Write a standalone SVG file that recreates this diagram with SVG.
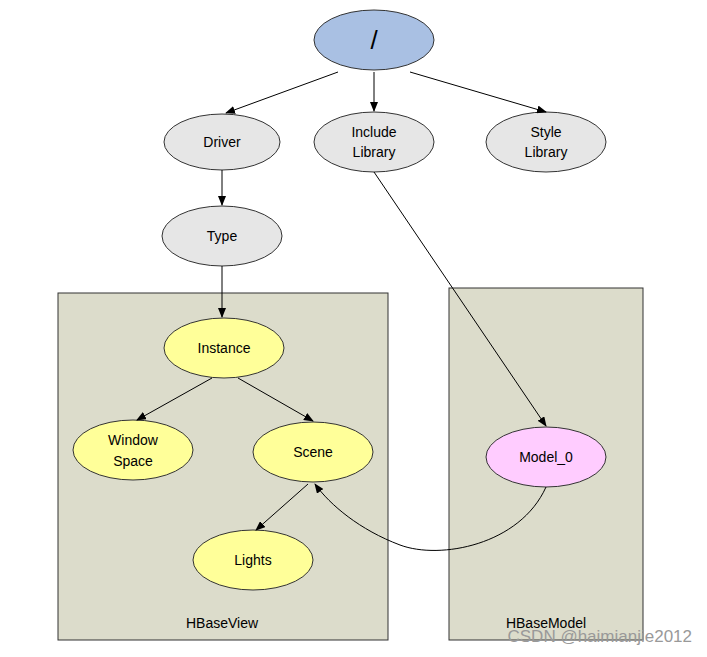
<svg xmlns="http://www.w3.org/2000/svg" width="707" height="657" viewBox="0 0 707 657">
<defs>
<style>
text{font-family:"Liberation Sans",Arial,sans-serif;font-size:14px;fill:#000;text-anchor:middle}
.g{fill:#e6e6e6;stroke:#333;stroke-width:1}
.y{fill:#ffff99;stroke:#333;stroke-width:1}
.box{fill:#dcdccb;stroke:#333;stroke-width:1}
.c{stroke:#000;stroke-width:1;fill:none;marker-end:url(#a)}
</style>
<marker id="a" markerWidth="10" markerHeight="8" refX="9" refY="4" orient="auto" markerUnits="userSpaceOnUse"><path d="M0,0 L10,4 L0,8 z" fill="#000"/></marker>
</defs>
<rect width="707" height="657" fill="#fff"/>
<g id="HBaseView"><rect class="box" x="58" y="293" width="330" height="347"/><text x="222" y="628">HBaseView</text></g>
<g id="HBaseModel"><rect class="box" x="449" y="288" width="194" height="352"/><text x="546" y="628">HBaseModel</text></g>
<g id="root"><ellipse cx="374" cy="40" rx="60" ry="30" fill="#a9c0e3" stroke="#333"/><text x="374" y="49" style="font-size:26px">/</text></g>
<g id="driver"><ellipse class="g" cx="222" cy="142" rx="58" ry="28"/><text x="222" y="147">Driver</text></g>
<g id="include"><ellipse class="g" cx="374" cy="142" rx="60" ry="30"/><text x="374" y="137">Include</text><text x="374" y="157">Library</text></g>
<g id="style"><ellipse class="g" cx="546" cy="142" rx="60" ry="30"/><text x="546" y="137">Style</text><text x="546" y="157">Library</text></g>
<g id="type"><ellipse class="g" cx="222" cy="236" rx="60" ry="30"/><text x="222" y="241">Type</text></g>
<g id="instance"><ellipse class="y" cx="224" cy="348" rx="60" ry="30"/><text x="224" y="353">Instance</text></g>
<g id="window"><ellipse class="y" cx="133" cy="450" rx="60" ry="30"/><text x="133" y="445">Window</text><text x="133" y="466">Space</text></g>
<g id="scene"><ellipse class="y" cx="313" cy="452" rx="60" ry="30"/><text x="313" y="457">Scene</text></g>
<g id="lights"><ellipse class="y" cx="253" cy="560" rx="60" ry="30"/><text x="253" y="565">Lights</text></g>
<g id="model0"><ellipse cx="546" cy="457" rx="60" ry="30" fill="#ffccff" stroke="#333"/><text x="546" y="462">Model_0</text></g>
<g id="connectors">
<path class="c" d="M338,72 L226,113"/>
<path class="c" d="M374,72 L374,111"/>
<path class="c" d="M410,72 L546,112"/>
<path class="c" d="M222,170 L222,205"/>
<path class="c" d="M222,266 L222,317"/>
<path class="c" d="M212,378 L137,420"/>
<path class="c" d="M238,378 L313,421"/>
<path class="c" d="M308,484 L256,530"/>
<path class="c" d="M374,172 L546,426"/>
<path class="c" d="M546,487 C520,545 440,560 400,545 C360,530 330,505 315,484"/>
</g>
<text x="692" y="642" style="fill:#999;font-size:17px;text-anchor:end">CSDN @haimianjie2012</text>
</svg>
